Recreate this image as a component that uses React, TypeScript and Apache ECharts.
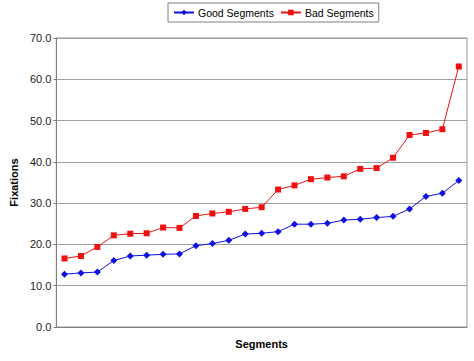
import React, { useEffect, useRef } from "react";
import * as echarts from "echarts";

const categories: string[] = Array.from({ length: 25 }, (_, i) => String(i + 1));
const goodSegments: number[] = [
  12.8, 13.1, 13.3, 16.1, 17.2, 17.4, 17.6, 17.7, 19.7, 20.2, 21.0, 22.5, 22.7,
  23.1, 24.9, 24.9, 25.1, 25.9, 26.1, 26.5, 26.8, 28.6, 31.6, 32.4, 35.5,
];
const badSegments: number[] = [
  16.6, 17.2, 19.4, 22.2, 22.6, 22.7, 24.1, 24.0, 26.9, 27.5, 27.9, 28.6, 29.0,
  33.3, 34.3, 35.8, 36.2, 36.5, 38.3, 38.5, 41.0, 46.5, 47.0, 47.9, 63.1,
];

const FONT = "Liberation Sans, Arial, sans-serif";

export default function App() {
  const ref = useRef<HTMLDivElement>(null);
  useEffect(() => {
    if (!ref.current) return;
    const chart = echarts.init(ref.current, undefined, { renderer: "svg" });
    chart.setOption({
      animation: false,
      backgroundColor: "#ffffff",
      textStyle: { fontFamily: FONT },
      legend: {
        top: 3,
        left: 168,
        padding: [4, 5, 4, 5],
        borderColor: "#808080",
        borderWidth: 1,
        itemWidth: 20,
        itemHeight: 7,
        itemGap: 6,
        textStyle: { fontFamily: FONT, fontSize: 10.5, color: "#000", padding: [0, 0, 0, -1] },
        data: ["Good Segments", "Bad Segments"],
      },
      grid: {
        left: 47,
        right: 7,
        top: 38,
        bottom: 34,
        show: true,
        borderColor: "#999",
        borderWidth: 1,
      },
      xAxis: {
        type: "category",
        data: categories,
        boundaryGap: true,
        name: "Segments",
        nameLocation: "middle",
        nameGap: 11,
        nameTextStyle: { fontFamily: FONT, fontSize: 11, fontWeight: "bold", color: "#000" },
        axisLine: { lineStyle: { color: "#808080" } },
        axisTick: { show: false },
        axisLabel: { show: false },
        splitLine: { show: false },
      },
      yAxis: {
        type: "value",
        min: 0,
        max: 70,
        interval: 10,
        name: "Fixations",
        nameLocation: "middle",
        nameGap: 29,
        nameTextStyle: { fontFamily: FONT, fontSize: 11, fontWeight: "bold", color: "#000" },
        axisLine: { show: true, lineStyle: { color: "#808080" } },
        axisTick: { show: true, length: 3, lineStyle: { color: "#808080" } },
        axisLabel: {
          fontFamily: FONT,
          fontSize: 11,
          color: "#222",
          margin: 5,
          formatter: (v: number) => v.toFixed(1),
        },
        splitLine: { show: true, lineStyle: { color: "#a0a0a0", width: 1 } },
      },
      series: [
        {
          name: "Good Segments",
          type: "line",
          data: goodSegments,
          symbol: "diamond",
          symbolSize: 7,
          color: "#1010e0",
          lineStyle: { width: 1, color: "#1010e0" },
          itemStyle: { color: "#1010e0" },
        },
        {
          name: "Bad Segments",
          type: "line",
          data: badSegments,
          symbol: "rect",
          symbolSize: 6,
          color: "#ee1111",
          lineStyle: { width: 1, color: "#ee1111" },
          itemStyle: { color: "#ee1111" },
        },
      ],
    });
    return () => chart.dispose();
  }, []);
  return (
    <div
      ref={ref}
      style={{ position: "absolute", left: 0, top: 0, width: 474, height: 361 }}
    />
  );
}
